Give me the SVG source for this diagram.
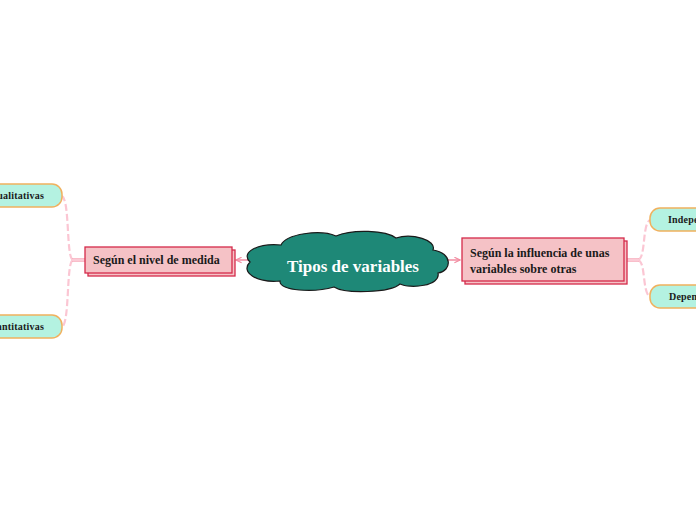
<svg xmlns="http://www.w3.org/2000/svg" width="696" height="520" viewBox="0 0 696 520">
<defs>
<style>
.main{fill:#1e8877;stroke:#1a1a1a;stroke-width:1.2}
.maintxt{font-family:"Liberation Serif","DejaVu Serif",serif;font-weight:bold;font-size:17px;fill:#ffffff}
.sub{fill:#f5c2c6;stroke:#d42a4a;stroke-width:1.3}
.subtxt{font-family:"Liberation Serif","DejaVu Serif",serif;font-weight:bold;font-size:12px;fill:#1a1a1a}
.leaf{fill:#b4f2e1;stroke:#f0b15e;stroke-width:1.5}
.leaftxt{font-family:"Liberation Serif","DejaVu Serif",serif;font-weight:bold;font-size:10px;letter-spacing:0.2px;fill:#1a1a1a}
.arrow{fill:none;stroke:#f28ba0;stroke-width:1.5}
.stub{fill:none;stroke:#f7a9b9;stroke-width:3.5}
.stubin{fill:none;stroke:#fde3ea;stroke-width:1.2}
.branch{fill:none;stroke:#fbc6d3;stroke-width:2.2;stroke-dasharray:7 3}
</style>
<marker id="ah" viewBox="0 0 10 10" refX="9" refY="5" markerWidth="7" markerHeight="7" orient="auto" markerUnits="userSpaceOnUse">
<path d="M1,1 L9,5 L1,9" fill="none" stroke="#f28ba0" stroke-width="1.6"/>
</marker>
</defs>
<rect width="696" height="520" fill="#ffffff"/>
<g id="connectors">
<line class="arrow" x1="248" y1="260" x2="236" y2="260" marker-end="url(#ah)"/>
<line class="arrow" x1="447" y1="260" x2="460" y2="260" marker-end="url(#ah)"/>
<path class="branch" d="M73,260 C66,258 70,201 62,196"/>
<path class="branch" d="M73,260 C66,262 70,322 62,327"/>
<line class="stub" x1="72" y1="260" x2="86" y2="260"/>
<line class="stubin" x1="72" y1="260" x2="86" y2="260"/>
<path class="branch" d="M638,260 C646,258 642,224 650,220"/>
<path class="branch" d="M638,260 C646,262 642,292 650,297"/>
<line class="stub" x1="626" y1="260" x2="639" y2="260"/>
<line class="stubin" x1="626" y1="260" x2="639" y2="260"/>
</g>
<g id="center">
<path class="main" d="M250,262 C240,252 258,243 281,245 C286,234 320,229 336,236 C352,229 386,230 396,238 C412,233 437,240 433,250 C453,253 452,271 438,273 C441,286 410,289 400,284 C390,293 345,294 334,287 C314,293 279,291 280,281 C256,283 240,272 250,262 Z"/>
<text class="maintxt" x="353" y="272" text-anchor="middle">Tipos de variables</text>
</g>
<g id="sub-left">
<rect class="sub" x="88" y="250" width="147" height="26"/>
<rect class="sub" x="85" y="247" width="147" height="26"/>
<text class="subtxt" x="93" y="264">Según el nivel de medida</text>
</g>
<g id="sub-right">
<rect class="sub" x="465" y="241" width="162" height="43"/>
<rect class="sub" x="462" y="238" width="162" height="43"/>
<text class="subtxt" x="470" y="257">Según la influencia de unas</text>
<text class="subtxt" x="470" y="273">variables sobre otras</text>
</g>
<g id="leaf-cualitativas">
<rect class="leaf" x="-40" y="184" width="102" height="23" rx="10"/>
<text class="leaftxt" x="44" y="199" text-anchor="end">Cualitativas</text>
</g>
<g id="leaf-cuantitativas">
<rect class="leaf" x="-40" y="315" width="102" height="23" rx="10"/>
<text class="leaftxt" x="44" y="330" text-anchor="end">Cuantitativas</text>
</g>
<g id="leaf-independientes">
<rect class="leaf" x="650" y="208" width="110" height="23" rx="10"/>
<text class="leaftxt" x="668" y="223">Independientes</text>
</g>
<g id="leaf-dependientes">
<rect class="leaf" x="650" y="285" width="110" height="23" rx="10"/>
<text class="leaftxt" x="669" y="300">Dependientes</text>
</g>
</svg>
